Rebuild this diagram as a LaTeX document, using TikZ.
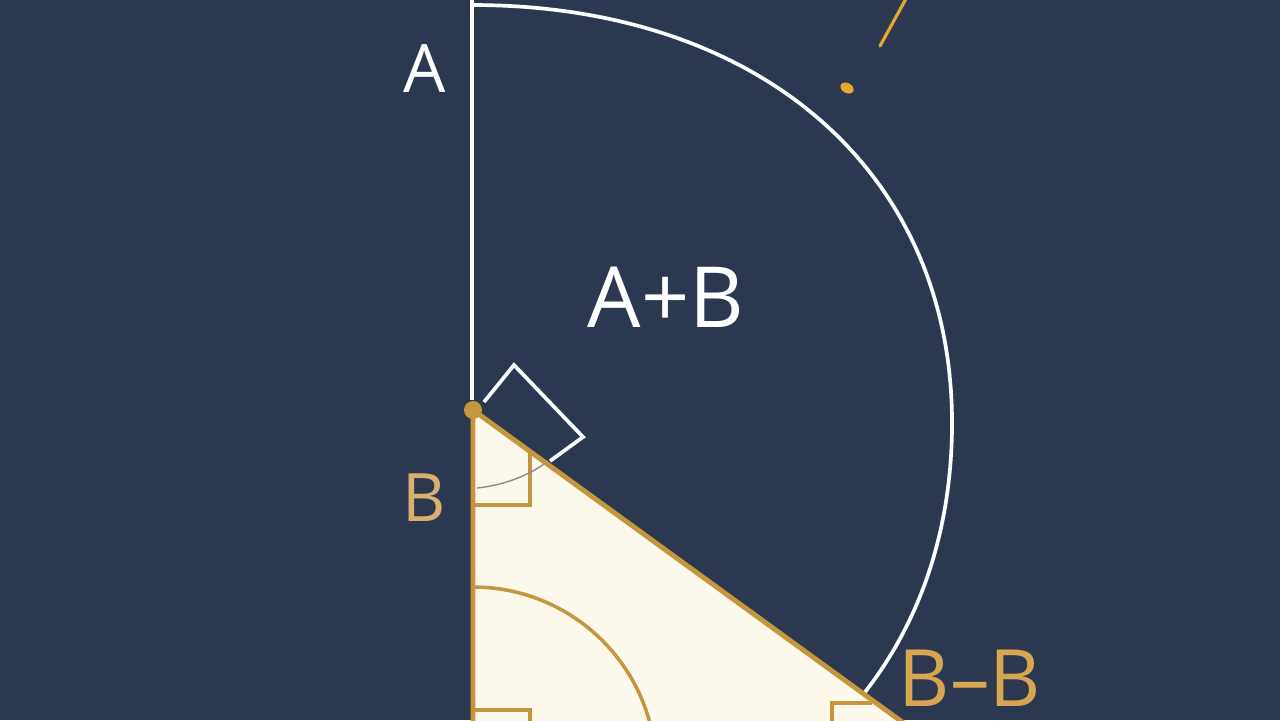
\documentclass[tikz,border=0pt]{standalone}
\usepackage{fontspec}
\setmainfont{Open Sans}
\definecolor{navy}{HTML}{2B3850}
\definecolor{cream}{HTML}{FDF8EC}
\definecolor{gold}{HTML}{C4973F}
\definecolor{goldtext}{HTML}{D6A650}
\definecolor{goldlight}{HTML}{D9B070}
\definecolor{markgold}{HTML}{E3A82E}
\definecolor{greyarc}{HTML}{8C8C84}
\tikzset{
  whiteline/.style={draw=white, line width=1.05pt},
  goldline/.style={draw=gold, line width=1.4pt},
  goldthin/.style={draw=gold, line width=1.0pt},
  lbl/.style={inner sep=0pt, font=\fontsize{19}{19}\selectfont},
  biglbl/.style={inner sep=0pt, font=\fontsize{24}{24}\selectfont},
}
\begin{document}
\begin{tikzpicture}[x=0.01cm, y=-0.01cm]
\useasboundingbox (0,0) rectangle (1280,720);
\fill[navy] (0,0) rectangle (1280,720);
\clip (0,0) rectangle (1280,720);

% named points
\coordinate (O) at (473,410);
\coordinate (top) at (472,0);
\coordinate (arcstart) at (472,5);
\coordinate (arcright) at (952,423);
\coordinate (arcbottom) at (472,861);
\coordinate (bl) at (473,740);
\coordinate (br) at (927,740);

% big white arc (lower part hidden by triangle)
\draw[whiteline] (arcstart) .. controls (760,5) and (952,172) .. (arcright)
  .. controls (952,686) and (760,861) .. (arcbottom);
% white vertical line
\draw[whiteline] (top) -- (472,400);

% triangle
\fill[cream] (O) -- (br) -- (bl) -- cycle;

% gold quarter arc inside triangle
\draw[goldthin] (473,587) arc[start angle=-90, end angle=0, radius=183];

% small right-angle squares
\draw[goldthin] (530,451) -- (530,505) -- (475,505);
\draw[goldthin] (475,710) -- (530,710) -- (530,725);
\draw[goldthin] (832,725) -- (832,703) -- (872,703);

% thin grey arc
\draw[draw=greyarc, line width=0.4pt] (477,488) .. controls (505,485) and (530,475) .. (548,461);

% triangle edges
\draw[goldline] (473,740) -- (O) -- (br);

% white rotated square
\draw[whiteline, line join=miter] (484,402) -- (514,365) -- (583,437) -- (550,461);

% gold dot
\fill[gold] (O) circle[radius=9];

% top-right gold marks
\draw[draw=markgold, line width=0.9pt, line cap=round] (880,46) -- (908,-5);
\fill[markgold, rotate around={-30:(847,88)}] (847,88) ellipse[x radius=7, y radius=5];

% labels
\node[lbl, text=white] (la) at (425,69) {A};
\node[biglbl, text=white] (lab) at (666,297) {A+B};
\node[lbl, text=goldlight] (lb) at (424,498) {B};
\node[biglbl, text=goldtext, font=\fontsize{22.5}{22.5}\selectfont] (lbb) at (970,678) {B–B};
\end{tikzpicture}
\end{document}
